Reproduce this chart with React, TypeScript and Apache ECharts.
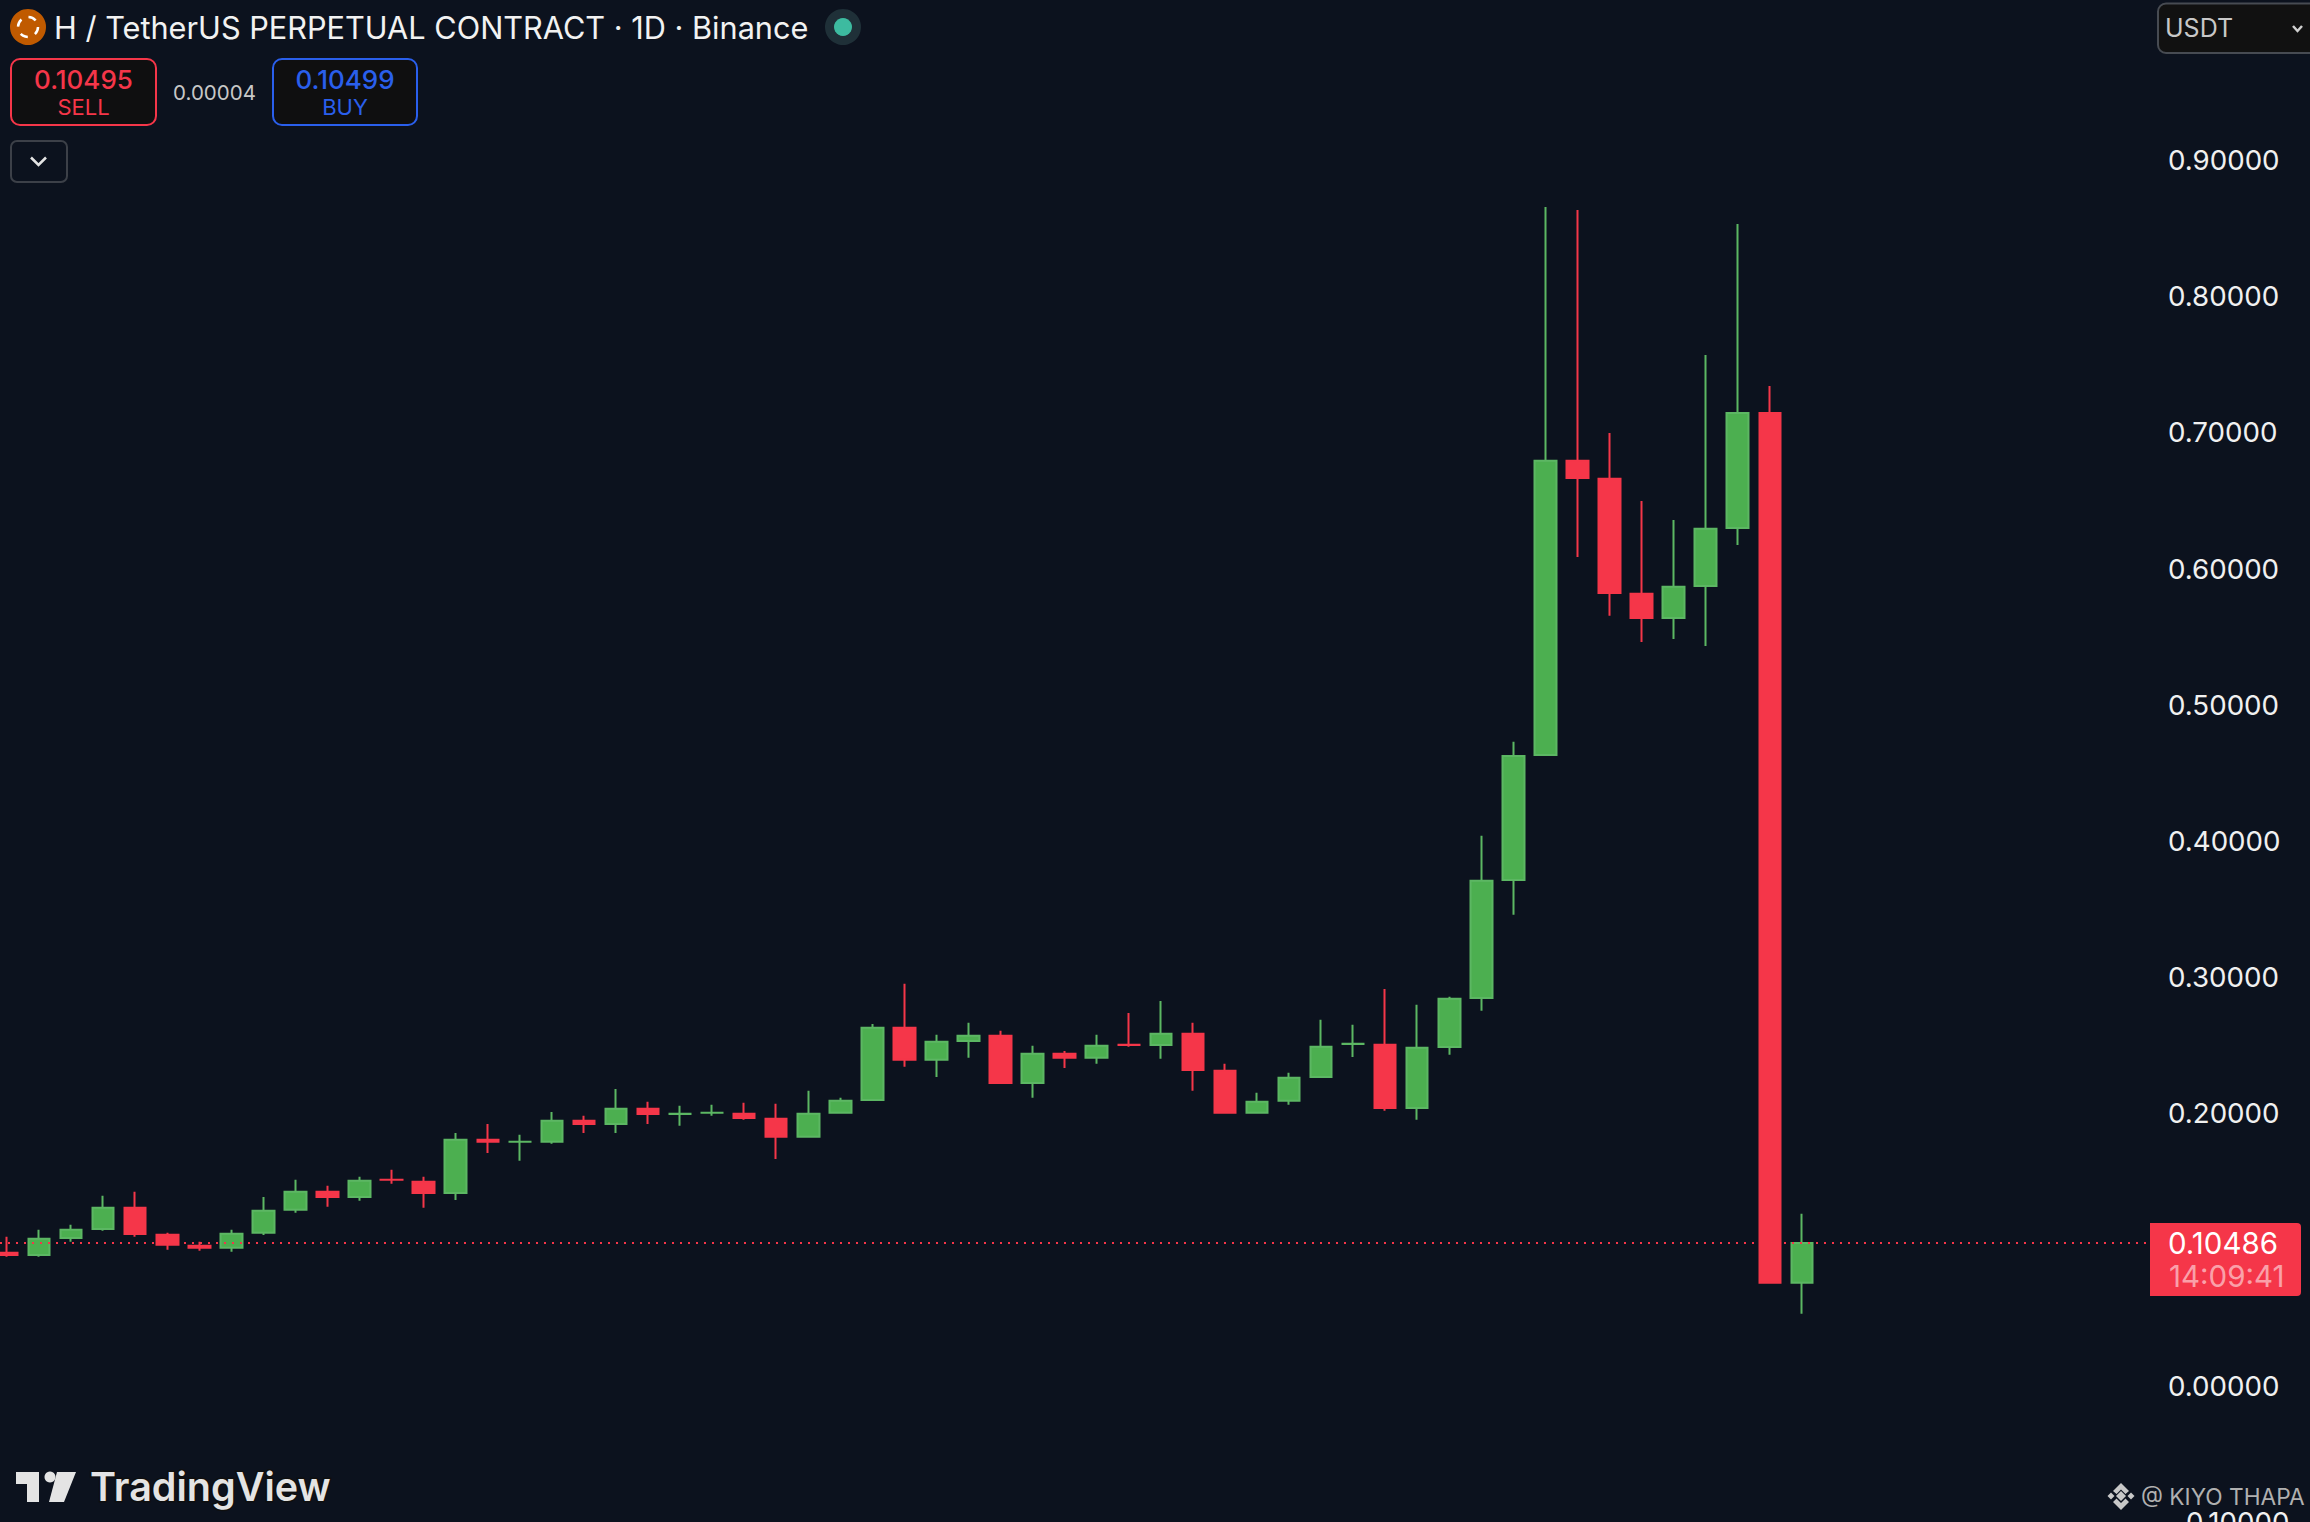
import React, { useEffect, useRef } from "react";
import * as echarts from "echarts";

const opens = [0.0977,0.0961,0.1086,0.1152,0.1307,0.1109,0.1028,0.1013,0.1123,0.1292,0.1425,0.1387,0.1513,0.1498,0.1416,0.1806,0.1791,0.1791,0.1946,0.1923,0.2034,0.1996,0.2004,0.1997,0.1960,0.1828,0.2004,0.2099,0.2628,0.2393,0.2532,0.2570,0.2224,0.2438,0.2408,0.2504,0.2503,0.2584,0.2313,0.2004,0.2092,0.2268,0.2510,0.2504,0.2040,0.2488,0.2848,0.3714,0.4632,0.6791,0.6659,0.5815,0.5638,0.5873,0.6298,0.7143,0.0756];
const closes = [0.0961,0.1079,0.1146,0.1307,0.1115,0.1035,0.1013,0.1116,0.1285,0.1425,0.1387,0.1505,0.1512,0.1416,0.1806,0.1791,0.1792,0.1946,0.1923,0.2034,0.1996,0.1997,0.2005,0.1967,0.1828,0.1997,0.2093,0.2628,0.2393,0.2526,0.2570,0.2224,0.2438,0.2408,0.2496,0.2503,0.2584,0.2319,0.2004,0.2085,0.2261,0.2489,0.2511,0.2040,0.2482,0.2841,0.3708,0.4625,0.6791,0.6665,0.5821,0.5638,0.5866,0.6292,0.7143,0.0756,0.10486];
const lows = [0.0947,0.0947,0.1057,0.1138,0.1094,0.0998,0.0991,0.0984,0.1108,0.1270,0.1314,0.1358,0.1483,0.1307,0.1365,0.1710,0.1652,0.1777,0.1857,0.1857,0.1923,0.1909,0.1982,0.1953,0.1666,0.1821,0.1997,0.2092,0.2342,0.2268,0.2408,0.2217,0.2114,0.2334,0.2364,0.2489,0.2401,0.2166,0.1997,0.1997,0.2063,0.2261,0.2415,0.2019,0.1953,0.2430,0.2753,0.3458,0.4625,0.6086,0.5653,0.5462,0.5484,0.5432,0.6174,0.0749,0.0529];
const highs = [0.1094,0.1145,0.1182,0.1395,0.1424,0.1123,0.1057,0.1145,0.1387,0.1512,0.1468,0.1534,0.1586,0.1534,0.1857,0.1923,0.1843,0.2011,0.1982,0.2180,0.2085,0.2056,0.2063,0.2078,0.2070,0.2166,0.2114,0.2657,0.2951,0.2577,0.2665,0.2606,0.2496,0.2459,0.2577,0.2738,0.2826,0.2665,0.2364,0.2151,0.2298,0.2687,0.2650,0.2914,0.2797,0.2856,0.4038,0.4728,0.8655,0.8633,0.6996,0.6497,0.6357,0.7569,0.8530,0.7341,0.1263];
const lastPrice = 0.10486;
const categories = Array.from({ length: 67 }, (_, i) => String(i + 1));
const priceTicks = { min: -0.1, max: 1.0, interval: 0.1 };
const titleText = "H / TetherUS PERPETUAL CONTRACT · 1D · Binance";
const sellPrice = "0.10495";
const buyPrice = "0.10499";
const spreadText = "0.00004";
const countdown = "14:09:41";

const BG = "#0c121e";
const RED = "#f53649";
const GREEN = "#4caf50";
const GREEN_EDGE = "#5cb763";
const BLUE = "#2a5fec";
const UI_FONT = "Inter, sans-serif";
const SHIFT = 9; // the first candle is cut by the page edge: the chart div starts left of the page

const txt = (x: number, y: number, text: string, size: number, fill: string, extra: any = {}) => ({
  type: "text",
  x,
  y,
  silent: true,
  z: 20,
  style: {
    text,
    fill,
    fontSize: size,
    fontFamily: extra.fontFamily || UI_FONT,
    fontWeight: extra.fontWeight || 400,
    align: extra.align || "left",
    verticalAlign: "middle",
    stroke: extra.stroke,
    lineWidth: extra.lineWidth,
    opacity: extra.opacity,
  },
});
const box = (x: number, y: number, w: number, h: number, r: any, fill: string, stroke?: string, lw = 2) => ({
  type: "rect",
  silent: true,
  z: 15,
  shape: { x, y, width: w, height: h, r },
  style: { fill, stroke, lineWidth: lw },
});
const poly = (points: number[][], fill: string, z = 20) => ({
  type: "polygon",
  silent: true,
  z,
  shape: { points },
  style: { fill },
});
const chevron = (points: number[][], stroke: string, lw: number) => ({
  type: "polyline",
  silent: true,
  z: 20,
  shape: { points },
  style: { stroke, lineWidth: lw, fill: "none" },
});

export default function App() {
  const ref = useRef<HTMLDivElement>(null);
  useEffect(() => {
    document.body.style.margin = "0";
    document.body.style.background = BG;
    document.body.style.overflow = "hidden";
    const chart = echarts.init(ref.current!, undefined, { renderer: "svg" });
    const candles = opens.map((o, i) => [o, closes[i], lows[i], highs[i]]);
    chart.setOption({
      animation: false,
      backgroundColor: BG,
      grid: { left: 0, top: 23.8, width: 2147.35, height: 1498.4 },
      xAxis: {
        type: "category",
        data: categories,
        boundaryGap: true,
        axisLine: { show: false },
        axisTick: { show: false },
        axisLabel: { show: false },
        splitLine: { show: false },
      },
      yAxis: {
        type: "value",
        position: "right",
        min: priceTicks.min,
        max: priceTicks.max,
        interval: priceTicks.interval,
        axisLine: { show: false },
        axisTick: { show: false },
        splitLine: { show: false },
        axisLabel: {
          color: "#f0f0f0",
          fontSize: 27.7,
          fontFamily: UI_FONT,
          margin: 29.65,
          formatter: (v: number) =>
            v > 0.95 || v < -0.05 || Math.abs(v - 0.1) < 0.01 ? "" : Math.abs(v).toFixed(5),
        },
      },
      series: [
        {
          type: "candlestick",
          data: candles,
          barWidth: 22,
          clip: false,
          itemStyle: {
            color: GREEN,
            color0: RED,
            borderColor: GREEN_EDGE,
            borderColor0: RED,
            borderWidth: 2,
          },
          markLine: {
            silent: true,
            symbol: "none",
            animation: false,
            label: { show: false },
            lineStyle: { color: RED, width: 2, type: [2, 6], opacity: 1 },
            data: [[{ x: SHIFT, yAxis: lastPrice }, { x: 2147 + SHIFT, yAxis: lastPrice }]],
          },
        },
      ],
      graphic: [
        {
          type: "group",
          x: SHIFT,
          y: 0,
          children: [
            // header
            { type: "circle", silent: true, z: 15, shape: { cx: 28, cy: 27, r: 18 }, style: { fill: "#c05a00" } },
            { type: "circle", silent: true, z: 16, shape: { cx: 28, cy: 27, r: 10 }, style: { fill: "none", stroke: "#ffffff", lineWidth: 2.5, lineDash: [8, 7.7] } },
            txt(54, 27, titleText, 30.7, "#f2f2f2"),
            { type: "circle", silent: true, z: 15, shape: { cx: 843, cy: 27, r: 18 }, style: { fill: "#1f3038" } },
            { type: "circle", silent: true, z: 16, shape: { cx: 843, cy: 27, r: 9 }, style: { fill: "#3dbba0" } },
            box(11, 59, 145, 66, 9, "#0f0f10", RED),
            txt(83.5, 79, sellPrice, 26, RED, { align: "center", fontWeight: 500 }),
            txt(83.5, 107, "SELL", 22, RED, { align: "center" }),
            txt(214.5, 92, spreadText, 20.5, "#c8c8c8", { align: "center" }),
            box(273, 59, 144, 66, 9, "#0f0f10", BLUE),
            txt(345, 79, buyPrice, 26, BLUE, { align: "center", fontWeight: 500 }),
            txt(345, 107, "BUY", 22, BLUE, { align: "center" }),
            box(11, 141, 56, 41, 6, "#0c121e", "#3c4048"),
            chevron([[31, 157.5], [38.5, 165], [46, 157.5]], "#e4e4e4", 2.5),
            // currency select
            box(2158, 3.5, 160, 49.5, 8, "#111111", "#474b52"),
            txt(2165, 28, "USDT", 25, "#c8c8c8"),
            chevron([[2293, 26], [2297.5, 31], [2302, 26]], "#d0d0d0", 2.5),
            // current price tag
            box(2150, 1223, 151, 73, [0, 4, 4, 0], RED, undefined, 0),
            txt(2168, 1243, lastPrice.toFixed(5), 29.5, "#ffffff"),
            txt(2169, 1276, countdown, 29.5, "#ffffff", { opacity: 0.55 }),
            // clipped bottom tick
            txt(2186, 1522, "0.10000", 27.7, "#f0f0f0"),
            // TradingView logo
            poly([[16, 1472], [39, 1472], [39, 1502], [27, 1502], [27, 1484], [16, 1484]], "#e4e4e4"),
            { type: "circle", silent: true, z: 20, shape: { cx: 50, cy: 1477, r: 5.5 }, style: { fill: "#e4e4e4" } },
            poly([[57, 1472], [76, 1472], [64, 1502], [49, 1502]], "#e4e4e4"),
            txt(90, 1487, "TradingView", 39.5, "#e4e4e4", { fontWeight: 600, stroke: "#0f0f0f", lineWidth: 3 }),
            // watermark
            poly([[2121, 1491], [2126, 1496], [2121, 1501], [2116, 1496]], "#c8c8c8"),
            poly([[2111, 1492.5], [2114.5, 1496], [2111, 1499.5], [2107.5, 1496]], "#c8c8c8"),
            poly([[2131, 1492.5], [2134.5, 1496], [2131, 1499.5], [2127.5, 1496]], "#c8c8c8"),
            poly([[2121, 1483], [2129, 1491], [2125.5, 1494], [2121, 1489.5], [2116.5, 1494], [2113, 1491]], "#c8c8c8"),
            poly([[2121, 1510], [2129, 1502], [2125.5, 1498.5], [2121, 1503], [2116.5, 1498.5], [2113, 1502]], "#c8c8c8"),
            txt(2141, 1496, "@ KIYO THAPA", 22.7, "#b0b0b0"),
          ],
        },
      ],
    });
    return () => chart.dispose();
  }, []);
  return <div ref={ref} style={{ position: "absolute", left: -SHIFT, top: 0, width: 2310 + SHIFT, height: 1522 }} />;
}
